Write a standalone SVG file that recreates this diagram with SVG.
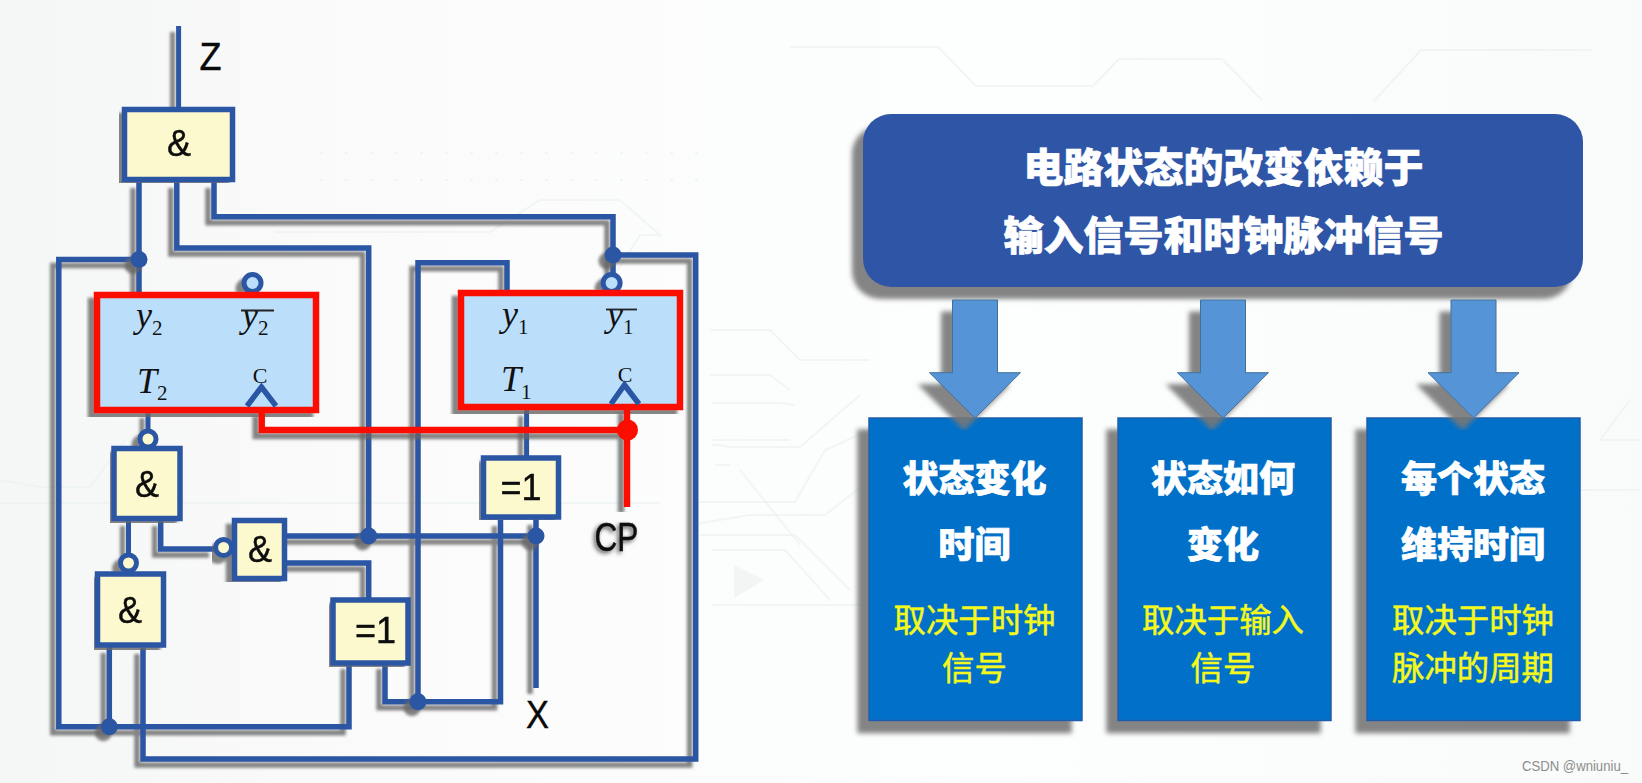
<svg xmlns="http://www.w3.org/2000/svg" width="1642" height="783" viewBox="0 0 1642 783">
<defs>
<linearGradient id="bg" x1="0" y1="0" x2="1" y2="0"><stop offset="0" stop-color="#f5f6f6"/><stop offset=".25" stop-color="#fbfbfb"/><stop offset=".6" stop-color="#fdfefe"/><stop offset="1" stop-color="#f9fafa"/></linearGradient>
<filter id="sh" x="-5%" y="-5%" width="110%" height="110%"><feDropShadow dx="-6" dy="6" stdDeviation="1.500" flood-color="#666" flood-opacity=".8"/></filter>
<filter id="shBig" x="-10%" y="-10%" width="120%" height="120%"><feDropShadow dx="-11" dy="12" stdDeviation="2.500" flood-color="#777" flood-opacity=".9"/></filter>
<filter id="shText" x="-30%" y="-30%" width="160%" height="160%"><feDropShadow dx="-2" dy="2" stdDeviation="2" flood-color="#222" flood-opacity=".8"/></filter>
</defs>
<style>
.trace{fill:none;stroke:#e9f0f2;stroke-width:2;opacity:.6}
.wire{fill:none;stroke:#2a56a3;stroke-width:5.500;stroke-linejoin:miter}
.thin{stroke-width:5}
.red{fill:none;stroke:#fb0d00;stroke-width:6.500}
.dot{fill:#2a56a3}
.gate{fill:#fdf9cf;stroke:#2a56a3;stroke-width:5.500}
.ff{fill:#bbdffb;stroke:#fb0d00;stroke-width:6.500}
.bub{stroke:#2a56a3;stroke-width:5;fill:#bbdffb}
.bubg{stroke:#2a56a3;stroke-width:5;fill:#fdf9cf}
.clk{fill:none;stroke:#2a56a3;stroke-width:5.500}
.lab{font-family:"Liberation Sans",Arial,sans-serif;fill:#0a0a0a;stroke:#0a0a0a;stroke-width:.4;text-anchor:middle}
.gl{font-size:36px}
.m{font-family:"Liberation Serif","Times New Roman",serif;font-style:italic;font-size:36px;fill:#111}
.s{font-style:normal;font-size:21px}
.c{font-family:"Liberation Serif","Times New Roman",serif;font-size:22px;fill:#111;text-anchor:middle}
.bar{stroke:#222;stroke-width:1.800}
.head{fill:#2d55a6}
.arr{fill:#5694d8;stroke:#41719c;stroke-width:1}
.box{fill:#0070c8;stroke:#1f5dab;stroke-width:1.500}
.t{font-family:"Noto Sans CJK SC",sans-serif;font-weight:900;fill:#fff;stroke:#fff;stroke-width:.7;text-anchor:middle}
.y{font-family:"Noto Sans CJK SC",sans-serif;font-weight:400;fill:#f4f81c;stroke:#f4f81c;stroke-width:.5;text-anchor:middle;font-size:32.400px}
</style>
<rect width="1642" height="783" fill="url(#bg)"/>
<g id="background">
<path class="trace" d="M790 47H938L976 86H1093L1119 59H1222L1262 100M1373 102L1421 50H1592"/>
<path class="trace" d="M0 503H130L180 470M0 480L40 487H90L125 440M115 503H660M710 330L770 330L800 360H870M715 375L755 375M710 375L770 375L790 390M712 403H780L795 405M712 440H790M712 445L720 445L728 447H800L860 395M715 465L730 465M695 502H795L825 450L870 430M695 524L750 515H825L870 480M700 535H795L850 590M712 550H785L830 600M712 605H870"/>
<path d="M734 565L764 580L734 598Z" fill="#f3f4f4"/>
<path class="trace" d="M320 153H720M320 180H720" stroke-dasharray="3 22"/>
<path class="trace" d="M275 232H490L540 200H620L660 235H640L605 290M740 470L800 545M1250 250L1310 245" opacity=".45"/>
<path class="trace" d="M1470 490H1640M1630 400L1600 440H1640" opacity=".4"/>
</g>
<g id="connectors">
<g filter="url(#sh)">
<path class="wire thin" d="M178.600 26V109"/>
<path class="wire" d="M139 182V294M139 259.500H58.800V726.700H349V663"/>
<path class="wire" d="M176.800 182V248H368.700V537"/>
<path class="wire" d="M214 182V216.700H613V276M613 255H695.700V759H143V648"/>
<path class="wire" d="M507 292V262.700H418V701.700"/>
<path class="wire" d="M385 663V701.700H500.500V520"/>
<path class="wire thin" d="M148 412V432M128.500 520V556M526.600 410V456"/>
<path class="wire" d="M160.700 520V549H215"/>
<path class="wire" d="M286 536H536M286 563H368.700V598M536 519V688"/>
<path class="wire" d="M109.300 647V726.700"/>
</g>
<g id="junctions" filter="url(#sh)">
<circle class="dot" cx="139" cy="259.500" r="8.500"/><circle class="dot" cx="613" cy="255" r="8.500"/>
<circle class="dot" cx="368.700" cy="536" r="8.500"/><circle class="dot" cx="536" cy="536" r="8.500"/>
<circle class="dot" cx="418" cy="701.700" r="8.500"/><circle class="dot" cx="109.300" cy="726.700" r="8.500"/>
</g>
</g>
<g id="gate-z" filter="url(#sh)"><rect class="gate" x="124.500" y="109.500" width="108" height="70"/><text class="lab gl" x="179" y="156">&amp;</text></g>
<g id="ff-2"><g filter="url(#sh)"><circle class="bub" cx="252.500" cy="283" r="8.500"/><rect class="ff" x="97" y="295" width="219" height="115"/></g>
<text class="m" x="136" y="327">y<tspan class="s" dy="8">2</tspan></text>
<text class="m" x="242" y="327">y<tspan class="s" dy="8">2</tspan></text><line class="bar" x1="241" y1="310.500" x2="274" y2="310.500"/>
<text class="m" x="137" y="393">T<tspan class="s" dy="7">2</tspan></text>
<text class="c" x="260" y="383">C</text><path class="clk" d="M247 406L261.500 387L276 406"/></g>
<g id="ff-1"><g filter="url(#sh)"><circle class="bub" cx="611.600" cy="283" r="8.500"/><rect class="ff" x="461" y="293" width="219" height="114"/></g>
<text class="m" x="502" y="326">y<tspan class="s" dy="8">1</tspan></text>
<text class="m" x="607" y="326">y<tspan class="s" dy="8">1</tspan></text><line class="bar" x1="606" y1="309.500" x2="637" y2="309.500"/>
<text class="m" x="501" y="391">T<tspan class="s" dy="8">1</tspan></text>
<text class="c" x="625" y="382">C</text><path class="clk" d="M611 404L624.500 385L639 404"/></g>
<g id="clock-line"><path class="red" d="M261.700 410V430H627M627 407V507" filter="url(#sh)"/><circle cx="627.500" cy="430" r="10.500" fill="#fb0d00"/></g>
<g id="gate-a" filter="url(#sh)"><circle class="bubg" cx="148" cy="439" r="8"/><rect class="gate" x="114" y="448.500" width="66" height="70"/><text class="lab gl" x="147" y="497">&amp;</text></g>
<g id="gate-b" filter="url(#sh)"><circle class="bubg" cx="128.500" cy="563" r="8"/><rect class="gate" x="97.500" y="574" width="66" height="71"/><text class="lab gl" x="130" y="623">&amp;</text></g>
<g id="gate-c" filter="url(#sh)"><circle class="bubg" cx="223.600" cy="547.500" r="8"/><rect class="gate" x="234.500" y="520.500" width="50" height="58"/><text class="lab gl" x="260" y="562">&amp;</text></g>
<g id="xor-1" filter="url(#sh)"><rect class="gate" x="483.500" y="458" width="75" height="59"/><text class="lab gl" x="521" y="500">=1</text></g>
<g id="xor-2" filter="url(#sh)"><rect class="gate" x="333" y="600" width="75" height="63"/><text class="lab gl" x="375.500" y="643">=1</text></g>
<text class="lab" x="210.500" y="70" font-size="39" textLength="22" lengthAdjust="spacingAndGlyphs">Z</text>
<text class="lab" x="537.500" y="728" font-size="39" textLength="23" lengthAdjust="spacingAndGlyphs">X</text>
<text class="lab" x="616.500" y="551" font-size="41" textLength="44" lengthAdjust="spacingAndGlyphs" filter="url(#shText)">CP</text>
<g id="header"><rect class="head" x="863" y="114" width="720" height="173" rx="28" filter="url(#shBig)"/>
<text class="t" x="1223.500" y="182" font-size="40">电路状态的改变依赖于</text>
<text class="t" x="1223.500" y="250" font-size="40">输入信号和时钟脉冲信号</text></g>
<g id="box-1"><rect class="box" x="869" y="418" width="213" height="302.500" filter="url(#shBig)"/>
<text class="t" x="974.500" y="492" font-size="36">状态变化</text><text class="t" x="974.500" y="558" font-size="36">时间</text>
<text class="y" x="974.500" y="632">取决于时钟</text><text class="y" x="974.500" y="680">信号</text></g>
<g id="box-2"><rect class="box" x="1118" y="418" width="213" height="302.500" filter="url(#shBig)"/>
<text class="t" x="1223" y="492" font-size="36">状态如何</text><text class="t" x="1223" y="558" font-size="36">变化</text>
<text class="y" x="1223" y="632">取决于输入</text><text class="y" x="1223" y="680">信号</text></g>
<g id="box-3"><rect class="box" x="1367" y="418" width="213" height="302.500" filter="url(#shBig)"/>
<text class="t" x="1473" y="492" font-size="36">每个状态</text><text class="t" x="1473" y="558" font-size="36">维持时间</text>
<text class="y" x="1473" y="632">取决于时钟</text><text class="y" x="1473" y="680">脉冲的周期</text></g>
<g id="arrows" filter="url(#shBig)">
<path class="arr" d="M952.500 300H997.500V372.700H1020.500L975 418L929.500 372.700H952.500Z"/>
<path class="arr" d="M1200.500 300H1245.500V372.700H1268.500L1223 418L1177.500 372.700H1200.500Z"/>
<path class="arr" d="M1451 300H1496V372.700H1519L1473.500 418L1428 372.700H1451Z"/>
</g>
<text x="1522" y="771" font-family="Liberation Sans,Arial,sans-serif" font-size="14.500" fill="#8d8d8d" textLength="106" lengthAdjust="spacingAndGlyphs">CSDN @wniuniu_</text>
</svg>
